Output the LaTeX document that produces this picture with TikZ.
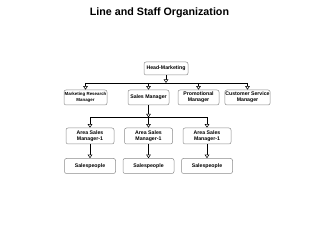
\documentclass[tikz,border=0pt]{standalone}
\usepackage{fontspec}
\setmainfont{Liberation Sans}
\usepackage{tikz}
\usetikzlibrary{arrows.meta, positioning}
\definecolor{boxGray}{RGB}{140, 140, 140}

\begin{document}
\begin{tikzpicture}[
  x=1pt, y=1pt,
  orgbox/.style={
    rectangle, rounded corners=2pt,
    draw=boxGray, fill=white, line width=0.5pt,
    minimum height=15pt, inner xsep=0.5pt, inner ysep=1pt,
    align=center, font=\fontsize{5.2}{6}\selectfont\bfseries
  },
  link/.style={line width=0.9pt},
  >={Triangle[open, length=3.5pt, width=4.5pt, line width=0.5pt, fill=white]}, node distance=10pt
]
\useasboundingbox (0,0) rectangle (320,240);

\node[font=\fontsize{10.7}{12}\selectfont\bfseries] (title) at (159.5,227.5) {Line and Staff Organization};

\node[orgbox, minimum width=44pt, minimum height=13pt] (head) at (166,171.5) {Head-Marketing};

\node[orgbox, minimum width=43pt, font=\fontsize{4.4}{5.4}\selectfont\bfseries] (research) at (85.5,142.5) {Marketing Research\\Manager};
\node[orgbox, minimum width=41pt] (sales) at (148.5,142.5) {Sales Manager};
\node[orgbox, minimum width=41pt] (promo) at (198.5,142.5) {Promotional\\Manager};
\node[orgbox, minimum width=43pt] (service) at (247.5,142.5) {Customer Service\\Manager};

\node[orgbox, minimum width=48pt, minimum height=16pt] (area1) at (90,104) {Area Sales\\Manager-1};
\node[orgbox, minimum width=48pt, minimum height=16pt, right=of area1] (area2) {Area Sales\\Manager-1};
\node[orgbox, minimum width=48pt, minimum height=16pt, right=of area2] (area3) {Area Sales\\Manager-1};

\node[orgbox, minimum width=51pt, below=14pt of area1] (crew1) {Salespeople};
\node[orgbox, minimum width=51pt, below=14pt of area2] (crew2) {Salespeople};
\node[orgbox, minimum width=51pt, below=14pt of area3] (crew3) {Salespeople};

% staff and line heads under Head-Marketing
\coordinate (bus1) at (166,157);
\draw[link, ->] (head) -- (bus1);
\draw[link] (research.north |- bus1) -- (service.north |- bus1);
\foreach \n in {research,sales,promo,service}
  \draw[link, ->] (\n.north |- bus1) -- (\n);

% line under Sales Manager
\coordinate (bus2) at (148,122.5);
\draw[link, ->] (sales) -- (sales |- bus2);
\draw[link] (area1.north |- bus2) -- (area3.north |- bus2);
\foreach \i in {1,2,3} {
  \draw[link, ->] (area\i.north |- bus2) -- (area\i);
  \draw[link, ->] (area\i) -- (crew\i);
}
\end{tikzpicture}
\end{document}
